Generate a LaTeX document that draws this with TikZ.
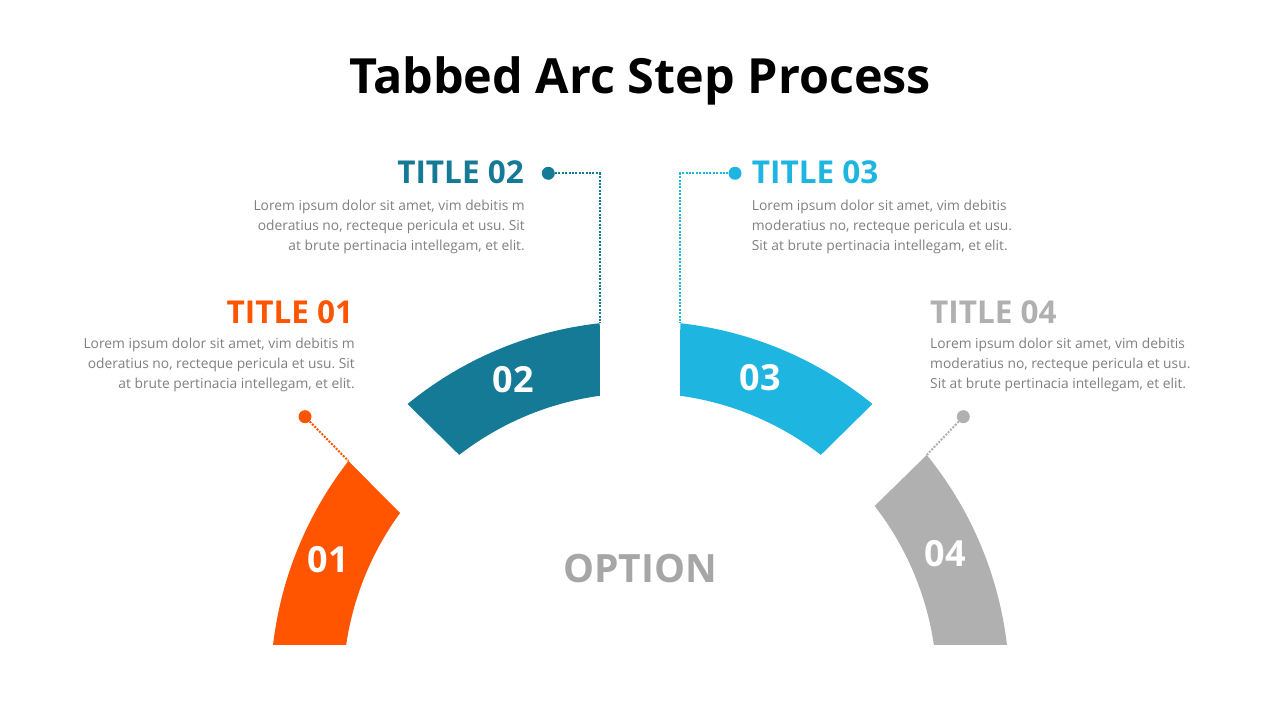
\documentclass[tikz,border=0pt]{standalone}
\usepackage{fontspec}
\setmainfont{Open Sans}
\frenchspacing
\definecolor{stepOrange}{HTML}{FF5500}
\definecolor{stepTeal}{HTML}{147A96}
\definecolor{stepBlue}{HTML}{1EB6E1}
\definecolor{stepGray}{HTML}{B0B0B0}
\definecolor{textGray}{HTML}{7F7F7F}
\definecolor{optionGray}{HTML}{A6A6A6}
\newcommand{\loremLeft}[0]{Lorem ipsum dolor sit amet, vim debitis m\\oderatius no, recteque pericula et usu. Sit\\at brute pertinacia intellegam, et elit.}
\newcommand{\loremRight}[0]{Lorem ipsum dolor sit amet, vim debitis\\moderatius no, recteque pericula et usu.\\Sit at brute pertinacia intellegam, et elit.}

\begin{document}
\begin{tikzpicture}[x=1pt, y=1pt]
  \tikzset{
    segment/.style={fill=#1},
    numLabel/.style={text=white, font=\bfseries\fontsize{36}{36}\selectfont},
    titleLabel/.style={text=#1, inner sep=0, font=\bfseries\fontsize{31.5}{31.5}\selectfont},
    bodyText/.style={text=textGray, inner sep=0, font=\fontsize{13.8}{20}\selectfont},
    dotMark/.style={circle, fill=#1, minimum size=13pt, inner sep=0},
    leader/.style={draw=#1, line width=2pt, dash pattern=on 2pt off 1.4pt}
  }
  \useasboundingbox (0,0) rectangle (1280,720);

  \node[anchor=base, font=\bfseries\fontsize{48.5}{48.5}\selectfont] (head) at (640,626.7) {Tabbed Arc Step Process};

  \begin{scope}[shift={(640,32)}]
    \clip (-640,43) rectangle (640,700);
    \fill[segment=stepOrange] (142.1:369.5) arc[start angle=142.1, end angle=190, radius=369.5]
      -- (190:297) arc[start angle=190, end angle=143.9, radius=297] -- cycle;
    \fill[segment=stepTeal] (96.3:367) arc[start angle=96.3, end angle=129.3, radius=367]
      -- (127.8:295) arc[start angle=127.8, end angle=97.8, radius=295] -- cycle;
    \fill[segment=stepBlue] (83.7:367) arc[start angle=83.7, end angle=50.7, radius=367]
      -- (52.2:295) arc[start angle=52.2, end angle=82.2, radius=295] -- cycle;
    \fill[segment=stepGray] (39.1:369.5) arc[start angle=39.1, end angle=-10, radius=369.5]
      -- (-10:297) arc[start angle=-10, end angle=37.8, radius=297] -- cycle;
    \coordinate (s1) at (142.1:369.5);
    \coordinate (s2) at (96.3:367);
    \coordinate (s3) at (83.7:367);
    \coordinate (s4) at (39.1:369.5);
  \end{scope}

  \node[numLabel] (n1) at (328.3,160) {01};
  \node[numLabel] (n2) at (513.3,340) {02};
  \node[numLabel] (n3) at (760,342) {03};
  \node[numLabel] (n4) at (945,166.7) {04};
  \node[text=optionGray, font=\bfseries\fontsize{39}{39}\selectfont] (opt) at (640,151.7) {OPTION};

  \node[dotMark=stepOrange] (d1) at (305,303.3) {};
  \node[dotMark=stepTeal] (d2) at (548.3,546.7) {};
  \node[dotMark=stepBlue] (d3) at (735,546.7) {};
  \node[dotMark=stepGray] (d4) at (963.3,303.3) {};
  \draw[leader=stepOrange] (d1) -- (s1);
  \draw[leader=stepTeal] (d2) -| (s2);
  \draw[leader=stepBlue] (d3) -| (s3);
  \draw[leader=stepGray] (d4) -- (s4);

  \node[titleLabel=stepOrange, anchor=base east] (t1) at (353.3,396.7) {TITLE 01};
  \node[titleLabel=stepTeal, anchor=base east] (t2) at (524,536.7) {TITLE 02};
  \node[titleLabel=stepBlue, anchor=base west] (t3) at (751.7,536.7) {TITLE 03};
  \node[titleLabel=stepGray, anchor=base west] (t4) at (930,396.7) {TITLE 04};

  \node[bodyText, align=right, anchor=north east] (b1) at (355,382) {\loremLeft};
  \node[bodyText, align=right, anchor=north east] (b2) at (525,520) {\loremLeft};
  \node[bodyText, align=left, anchor=north west] (b3) at (751.7,520) {\loremRight};
  \node[bodyText, align=left, anchor=north west] (b4) at (930,382) {\loremRight};
\end{tikzpicture}
\end{document}
